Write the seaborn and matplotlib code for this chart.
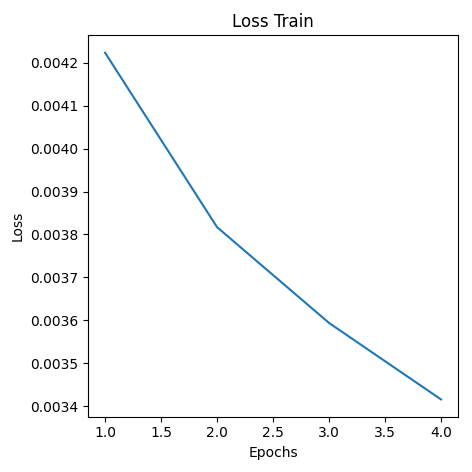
import matplotlib
matplotlib.use("Agg")
import matplotlib.pyplot as plt
import seaborn as sns
import pandas as pd

epochs = [1, 2, 3, 4]
loss = [0.004223, 0.003817, 0.003594, 0.003416]

df = pd.DataFrame({"Epochs": epochs, "Loss": loss})
fig, ax = plt.subplots(figsize=(4.72, 4.72), dpi=100)
sns.lineplot(data=df, x="Epochs", y="Loss", ax=ax)
ax.set_title("Loss Train")
fig.subplots_adjust(left=0.187, right=0.97, top=0.925, bottom=0.117)
fig.savefig("out.png", dpi=100)
